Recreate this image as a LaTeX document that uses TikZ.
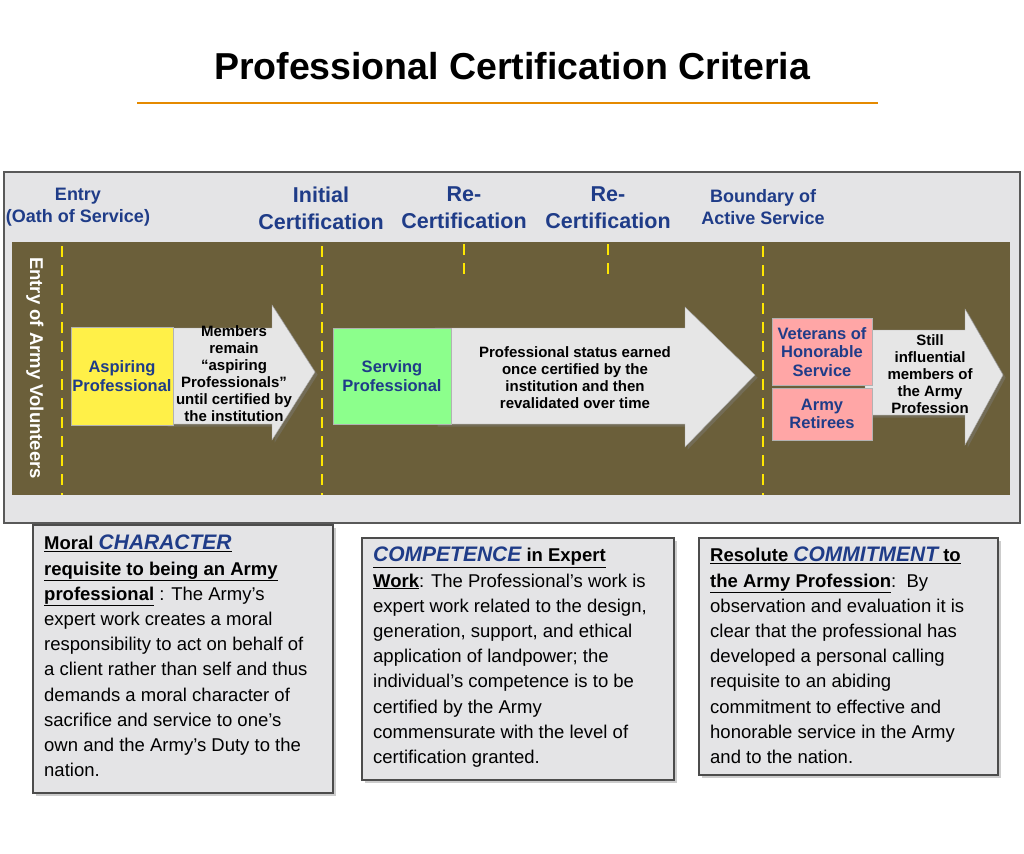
\documentclass[tikz,border=0pt]{standalone}
\usepackage{fontspec}
\setmainfont{Liberation Sans}
\usetikzlibrary{shadows}
\definecolor{olive}{HTML}{6B5F3A}
\definecolor{hdr}{HTML}{1F3C88}
\definecolor{panel}{HTML}{E4E4E6}
\definecolor{arr}{HTML}{E6E6E6}
\tikzset{
 hd/.style={text=hdr,align=center},
 ydash/.style={draw=yellow!90!orange,line width=2.5pt,dash pattern=on 11pt off 8pt},
 bigarrow/.style={fill=arr,draw=gray!70,drop shadow={opacity=0.4}},
 btxt/.style={font=\bfseries\fontsize{15}{17}\selectfont,align=center},
 lbl/.style={draw=gray!60,btxt,font=\bfseries\fontsize{16.5}{18.5}\selectfont,text=hdr,inner sep=0pt},
 infobox/.style={draw=gray!60!black,line width=1.2pt,fill=panel,drop shadow={opacity=0.4}},
 itext/.style={anchor=north west,align=left,font=\fontsize{18.5}{25.2}\selectfont,text=black,inner sep=2pt}
}
\begin{document}
\begin{tikzpicture}[x=1pt,y=-1pt]
\useasboundingbox (0,0) rectangle (1024,853);
\fill[white] (0,0) rectangle (1024,853);
\node (title) at (512,66) {\bfseries\fontsize{37.5}{40}\selectfont Professional Certification Criteria};
\draw[draw=orange!80!yellow!90!black,line width=2.5pt] (137,103) -- (878,103);
% panel
\draw[draw=gray!70!black,line width=1.5pt,fill=panel] (4,172) rectangle (1020,523);
\fill[olive] (12,242) rectangle (1010,495);
\node[rotate=-90,text=white,font=\bfseries\fontsize{18.5}{20}\selectfont] (vert) at (35,368) {Entry of Army Volunteers};
\draw[ydash] (62,246) -- (62,495);
\draw[ydash] (322,246) -- (322,495);
\draw[ydash] (763,246) -- (763,495);
\draw[ydash] (464,244) -- (464,281);
\draw[ydash] (608,244) -- (608,281);
\node[hd,font=\bfseries\fontsize{18}{22}\selectfont] (h1) at (78,207) {Entry\\(Oath of Service)};
\node[hd,font=\bfseries\fontsize{21.5}{27}\selectfont] (h2) at (321,208) {Initial\\Certification};
\node[hd,font=\bfseries\fontsize{21.5}{27}\selectfont] (h3) at (464,208) {Re-\\Certification};
\node[hd,font=\bfseries\fontsize{21.5}{27}\selectfont] (h4) at (608,208) {Re-\\Certification};
\node[hd,font=\bfseries\fontsize{18}{22}\selectfont] (h5) at (763,207) {Boundary of\\Active Service};
% arrows
\draw[bigarrow] (165,328) -- (272,328) -- (272,305) -- (315,372) -- (272,440) -- (272,424) -- (165,424) -- cycle;
\draw[bigarrow] (435,328) -- (685,328) -- (685,307) -- (755,375) -- (685,447) -- (685,424) -- (435,424) -- cycle;
\draw[bigarrow] (865,330) -- (965,330) -- (965,309) -- (1003,375) -- (965,445) -- (965,415) -- (865,415) -- cycle;
\node[btxt] (t1) at (234,374) {Members\\remain\\“aspiring\\Professionals”\\until certified by\\the institution};
\node[btxt] (t2) at (575,378) {Professional status earned\\once certified by the\\institution and then\\revalidated over time};
\node[btxt] (t3) at (930,374) {Still\\influential\\members of\\the Army\\Profession};
% boxes
\node[lbl,fill=yellow!70!white!95!orange,minimum width=102pt,minimum height=98pt] (asp) at (122,376) {Aspiring\\Professional};
\node[lbl,fill=green!45!white,minimum width=118pt,minimum height=96pt] (srv) at (392,376) {Serving\\Professional};
\node[lbl,fill=red!35!white,minimum width=100pt,minimum height=67pt] (vet) at (822,352) {Veterans of\\Honorable\\Service};
\node[lbl,fill=red!35!white,minimum width=100pt,minimum height=52pt] (ret) at (822,414) {Army\\Retirees};
% info boxes
\draw[infobox] (33,525) rectangle (333,793);
\draw[infobox] (362,538) rectangle (674,780);
\draw[infobox] (699,538) rectangle (998,775);
\node[itext] (b1) at (42,533) {\underline{\textbf{Moral \textcolor{hdr}{\fontsize{21}{22}\selectfont\itshape CHARACTER}}}\\
\underline{\textbf{requisite to being an Army}}\\
\underline{\textbf{professional}} : The Army’s\\
expert work creates a moral\\
responsibility to act on behalf of\\
a client rather than self and thus\\
demands a moral character of\\
sacrifice and service to one’s\\
own and the Army’s Duty to the\\
nation.};
\node[itext] (b2) at (371,545) {\underline{\textbf{\textcolor{hdr}{\fontsize{21}{22}\selectfont\itshape COMPETENCE} in Expert}}\\
\underline{\textbf{Work}}: The Professional’s work is\\
expert work related to the design,\\
generation, support, and ethical\\
application of landpower; the\\
individual’s competence is to be\\
certified by the Army\\
commensurate with the level of\\
certification granted.};
\node[itext] (b3) at (708,545) {\underline{\textbf{Resolute \textcolor{hdr}{\fontsize{21}{22}\selectfont\itshape COMMITMENT} to}}\\
\underline{\textbf{the Army Profession}}:\ \ By\\
observation and evaluation it is\\
clear that the professional has\\
developed a personal calling\\
requisite to an abiding\\
commitment to effective and\\
honorable service in the Army\\
and to the nation.};
\end{tikzpicture}
\end{document}
